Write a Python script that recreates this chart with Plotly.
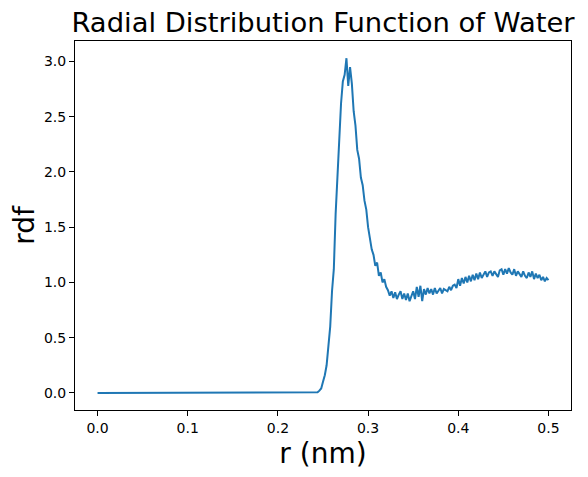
import numpy as np
import plotly.graph_objects as go

# r grid (nm) and g(r) values
r_nm = np.round(np.arange(0.0, 0.5001, 0.002), 3)

rdf_zero_part = [0.0] * 121  # r = 0.000 .. 0.240
rdf_shell = [
    0.0, 0.005, 0.02, 0.04, 0.10, 0.16, 0.25, 0.42, 0.60, 0.92,
    1.12, 1.62, 1.98, 2.40, 2.62, 2.82, 2.88, 3.03, 2.78, 2.95,
    2.80, 2.55, 2.42, 2.20, 2.12, 1.95, 1.88, 1.74, 1.66, 1.50,
    1.40, 1.30, 1.25, 1.15, 1.18, 1.06, 1.09, 1.00, 1.03, 0.96,
    0.93, 0.88, 0.92, 0.86, 0.91, 0.85, 0.89, 0.92, 0.85, 0.90,
    0.84, 0.90, 0.83, 0.88, 0.92, 0.85, 0.96, 0.87, 0.97, 0.83,
    0.94, 0.89, 0.95, 0.90, 0.94, 0.89, 0.95, 0.90, 0.93, 0.95,
    0.90, 0.94, 0.93, 0.92, 0.96, 0.93, 0.97, 0.98, 0.95, 1.03,
    0.97, 1.04, 0.99, 1.05, 1.00, 1.06, 1.01, 1.07, 1.02, 1.08,
    1.03, 1.09, 1.04, 1.07, 1.10, 1.05, 1.09, 1.10, 1.06, 1.10,
    1.08, 1.05, 1.11, 1.12, 1.07, 1.12, 1.08, 1.13, 1.09, 1.07,
    1.12, 1.06, 1.10, 1.08, 1.05, 1.10, 1.06, 1.04, 1.09, 1.05,
    1.10, 1.03, 1.08, 1.04, 1.07, 1.02, 1.05, 1.01, 1.04, 1.02,
]
rdf = rdf_zero_part + rdf_shell

x_ticks = [0.0, 0.1, 0.2, 0.3, 0.4, 0.5]
y_ticks = [0.0, 0.5, 1.0, 1.5, 2.0, 2.5, 3.0]

fig = go.Figure(go.Scatter(
    x=r_nm, y=rdf, mode="lines",
    line=dict(color="#1f77b4", width=2),
))

axis_style = dict(
    showline=True, mirror=True, linecolor="black", linewidth=1,
    ticks="outside", ticklen=5, tickwidth=1, tickcolor="black",
    showgrid=False, zeroline=False, automargin=False,
    tickfont=dict(family="DejaVu Sans", size=14, color="black"),
)

# page body adds an 8px offset, so the figure is 8px smaller each way
fig.update_layout(
    width=580, height=469,
    margin=dict(l=67, r=17, t=33, b=67),
    paper_bgcolor="white", plot_bgcolor="white",
    showlegend=False,
    font=dict(family="DejaVu Sans", color="black"),
    title=dict(
        text="Radial Distribution Function of Water",
        x=0.5, xref="paper", xanchor="center",
        y=0.970, yref="container", yanchor="middle",
        font=dict(size=27.4, color="black"),
        automargin=False,
    ),
    xaxis=dict(
        range=[-0.025, 0.525], tickvals=x_ticks, tickformat=".1f",
        title=dict(text="r (nm)", font=dict(size=28), standoff=8),
        **axis_style,
    ),
    yaxis=dict(
        range=[-0.155, 3.186], tickvals=y_ticks, tickformat=".1f",
        title=dict(text="rdf", font=dict(size=28), standoff=18),
        **axis_style,
    ),
)

fig.write_html("out.html")
